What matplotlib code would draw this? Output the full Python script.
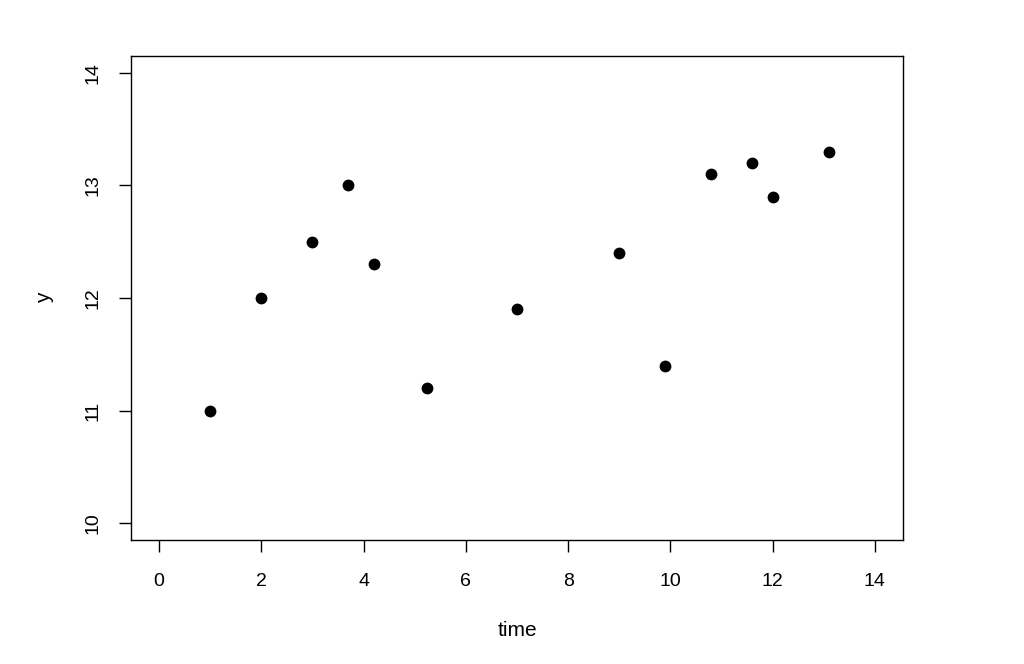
import matplotlib
matplotlib.use('Agg')
import matplotlib.pyplot as plt

plt.rcParams['font.family'] = ['Liberation Sans', 'DejaVu Sans']

time = [1, 2, 3, 3.7, 4.2, 5.25, 7, 9, 9.9, 10.8, 11.6, 12, 13.1]
y = [11.0, 12.0, 12.5, 13.0, 12.3, 11.2, 11.9, 12.4, 11.4, 13.1, 13.2, 12.9, 13.3]

xticks = [0, 2, 4, 6, 8, 10, 12, 14]
yticks = [10, 11, 12, 13, 14]

fig = plt.figure(figsize=(10.24, 6.64), dpi=100)
ax = fig.add_axes([131/1024, 124/664, 772/1024, 484/664])

ax.plot(time, y, 'o', color='black', markersize=8.5, markeredgewidth=0)

ax.set_xlim(-0.548, 14.55)
ax.set_ylim(9.849, 14.151)

for s in ax.spines.values():
    s.set_linewidth(1.0)

# R style: ticks outside, y labels rotated
ax.set_xticks(xticks)
ax.set_yticks(yticks)
ax.tick_params(direction='out', length=8.6, width=1, labelsize=14)
ax.tick_params(axis='x', pad=15)
ax.tick_params(axis='y', pad=12.5)
ax.set_yticklabels([str(v) for v in yticks], rotation=90, va='center')

ax.set_xlabel('time', fontsize=15, va='center')
ax.xaxis.set_label_coords(0.5, -0.188)
ax.set_ylabel('y', fontsize=15, va='center', ha='center')
ax.yaxis.set_label_coords(-0.1114, 0.5)

fig.savefig('out.png', dpi=100)
